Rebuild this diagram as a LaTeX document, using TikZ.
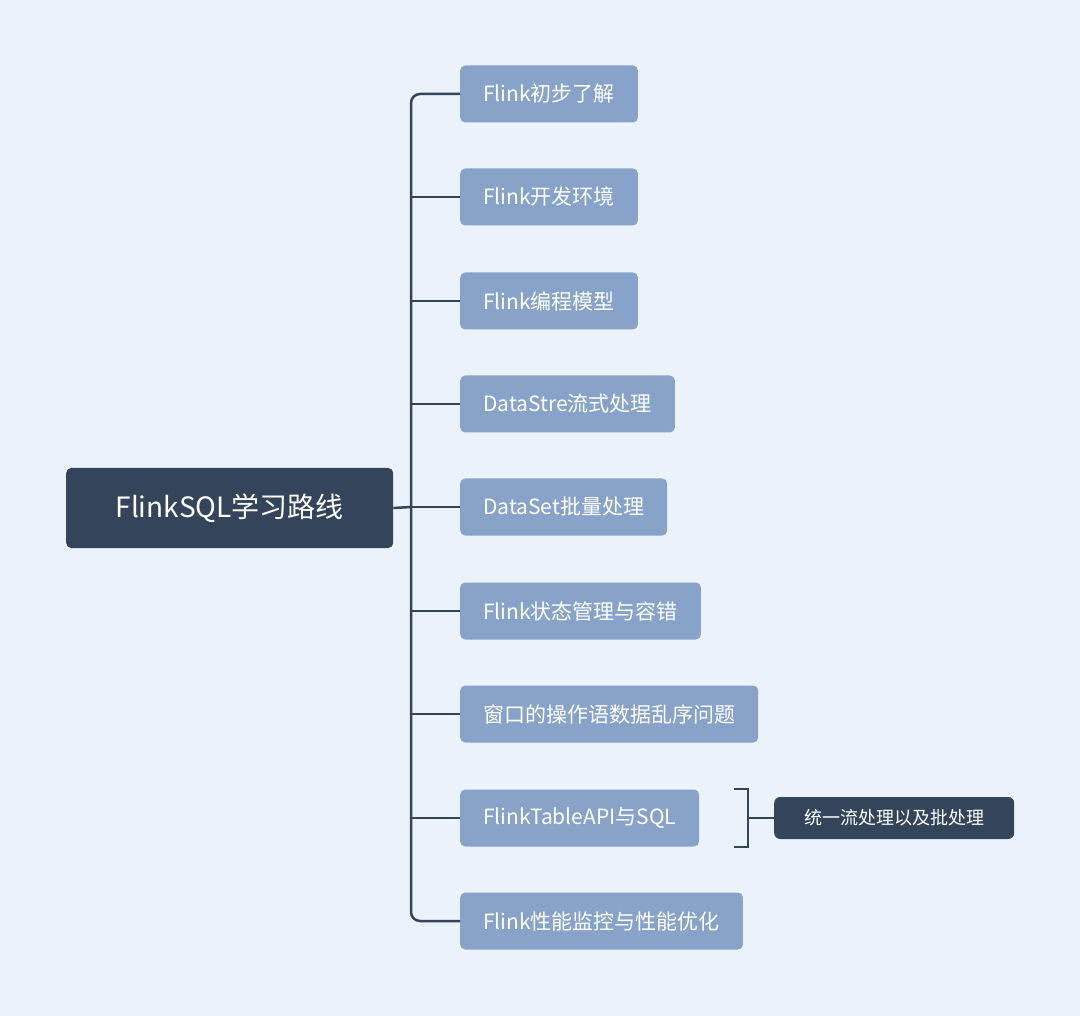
\documentclass[tikz,border=0pt]{standalone}
\usepackage{fontspec}
\setmainfont{Noto Sans CJK SC}
\definecolor{bg}{HTML}{EBF2F9}
\definecolor{dark}{HTML}{34445A}
\definecolor{child}{HTML}{88A3C9}
\begin{document}
\begin{tikzpicture}[x=1pt,y=-1pt,
  rootbox/.style={fill=dark,rounded corners=5pt,text=white,font=\fontsize{28}{32}\selectfont,minimum width=327pt,minimum height=80pt,anchor=west},
  childbox/.style={fill=child,rounded corners=5pt,text=white,font=\fontsize{21}{25}\selectfont,minimum height=57pt,inner xsep=23pt,anchor=west},
  notebox/.style={fill=dark,rounded corners=6pt,text=white,font=\fontsize{18}{22}\selectfont\itshape,minimum height=42pt,minimum width=240pt,anchor=west},
  conn/.style={draw=dark,line width=2.5pt}]
\fill[bg] (0,0) rectangle (1080,1016);
\useasboundingbox (0,0) rectangle (1080,1016);
\node[rootbox] (root) at (66,508) {FlinkSQL学习路线};
\node[childbox] (n1) at (460,94) {Flink初步了解};
\node[childbox] (n2) at (460,197) {Flink开发环境};
\node[childbox] (n3) at (460,301) {Flink编程模型};
\node[childbox] (n4) at (460,404) {DataStre流式处理};
\node[childbox] (n5) at (460,507) {DataSet批量处理};
\node[childbox] (n6) at (460,611) {Flink状态管理与容错};
\node[childbox] (n7) at (460,714) {窗口的操作语数据乱序问题};
\node[childbox] (n8) at (460,818) {FlinkTableAPI与SQL};
\node[childbox] (n9) at (460,921) {Flink性能监控与性能优化};
\node[notebox] (note) at (774,818) {统一流处理以及批处理};
\coordinate (t) at (411,507);
\draw[conn] (root.east) -- (t);
\draw[conn,rounded corners=9pt] (n1.west) -- (411,94) -- (411,921) -- (n9.west);
\foreach \i/\y in {2/197,3/301,4/404,5/507,6/611,7/714,8/818}
  \draw[conn] (411,\y) -- (n\i.west);
\draw[draw=dark,line width=2pt] (734,789) -- (748,789) -- (748,847) -- (734,847);
\draw[draw=dark,line width=2pt] (748,818) -- (note.west);
\end{tikzpicture}
\end{document}
